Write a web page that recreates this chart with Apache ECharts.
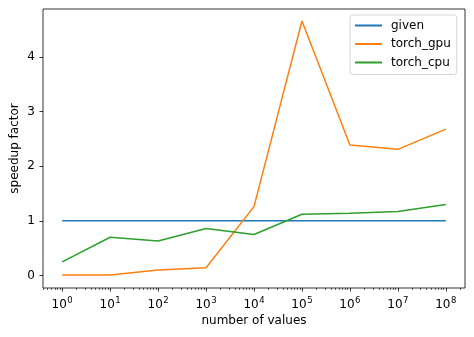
<!DOCTYPE html>
<html><head><meta charset="utf-8">
<script src="https://cdn.jsdelivr.net/npm/echarts@6/dist/echarts.min.js"></script>
<style>html,body{margin:0;padding:0;background:#fff}#c{width:474px;height:337px}</style>
</head><body><div id="c"></div>
<script>
const nValues = [1, 10, 100, 1000, 1e4, 1e5, 1e6, 1e7, 1e8];
const given = [1, 1, 1, 1, 1, 1, 1, 1, 1];
const torchGpu = [0.01, 0.01, 0.10, 0.14, 1.26, 4.66, 2.39, 2.31, 2.68];
const torchCpu = [0.25, 0.70, 0.63, 0.86, 0.75, 1.12, 1.14, 1.17, 1.30];
const yTicks = [0, 1, 2, 3, 4];
const xMajorExp = [0, 1, 2, 3, 4, 5, 6, 7, 8];

const minor = [];
for (let e = -1; e <= 8; e++) for (let k = 2; k <= 9; k++) {
  const v = Math.log10(k) + e;
  if (v > -0.4 && v < 8.4) minor.push(v);
}
const toPts = arr => arr.map((v, i) => [Math.log10(nValues[i]), v]);
const font = 'DejaVu Sans';
const fs = 12;
const chart = echarts.init(document.getElementById('c'), null, {renderer: 'canvas'});
chart.setOption({
  animation: false,
  backgroundColor: '#fff',
  textStyle: {fontFamily: font},
  grid: {left: 43, right: 9, top: 9, bottom: 49, show: true, containLabel: false, outerBoundsMode: 'none',
         borderColor: '#000', borderWidth: 0.8, backgroundColor: 'transparent'},
  legend: {
    orient: 'vertical', left: 350, top: 15, padding: [4, 6, 5.5, 5],
    itemWidth: 27, itemHeight: 2, itemGap: 5.5, icon: 'rect',
    borderColor: '#cccccc', borderWidth: 0.8, borderRadius: 3, backgroundColor: 'rgba(255,255,255,0.8)',
    textStyle: {fontFamily: font, fontSize: fs, color: '#000', lineHeight: 13, padding: [0,0,0,4]},
    data: ['given', 'torch_gpu', 'torch_cpu']
  },
  xAxis: [{
    type: 'value', min: -0.4, max: 8.4,
    name: 'number of values', nameLocation: 'middle', nameGap: 27, nameMoveOverlap: false,
    nameTextStyle: {fontFamily: font, fontSize: fs, color: '#000'},
    axisLine: {show: false, onZero: false}, splitLine: {show: false},
    axisTick: {show: true, customValues: xMajorExp, length: 3.5, lineStyle: {color: '#000', width: 0.8}},
    axisLabel: {customValues: xMajorExp, margin: 8, color: '#000', fontFamily: font,
      formatter: v => '{a|10}{b|' + Math.round(v) + '}',
      rich: {a: {fontSize: fs, fontFamily: font, color: '#000', lineHeight: 15, verticalAlign: 'bottom'},
             b: {fontSize: 8.5, fontFamily: font, color: '#000', lineHeight: 15, verticalAlign: 'top', padding: [0,0,0,0.5]}}}
  }, {
    type: 'value', min: -0.4, max: 8.4, position: 'bottom', gridIndex: 0,
    axisLine: {show: false, onZero: false}, splitLine: {show: false}, axisLabel: {show: false},
    axisTick: {show: true, customValues: minor, length: 2, lineStyle: {color: '#000', width: 0.6}}
  }],
  yAxis: {
    type: 'value', min: -0.23, max: 4.88,
    name: 'speedup factor', nameLocation: 'middle', nameGap: 22, nameRotate: 90, nameMoveOverlap: false,
    nameTextStyle: {fontFamily: font, fontSize: fs, color: '#000'},
    axisLine: {show: false, onZero: false}, splitLine: {show: false},
    axisTick: {show: true, customValues: yTicks, length: 3.5, lineStyle: {color: '#000', width: 0.8}},
    axisLabel: {customValues: yTicks, margin: 8, fontSize: fs, color: '#000', fontFamily: font}
  },
  series: [
    {name: 'given', type: 'line', data: toPts(given), showSymbol: false, symbol: 'none', lineStyle: {width: 1.5, color: '#1f77b4'}, itemStyle: {color: '#1f77b4'}},
    {name: 'torch_gpu', type: 'line', data: toPts(torchGpu), showSymbol: false, symbol: 'none', lineStyle: {width: 1.5, color: '#ff7f0e'}, itemStyle: {color: '#ff7f0e'}},
    {name: 'torch_cpu', type: 'line', data: toPts(torchCpu), showSymbol: false, symbol: 'none', lineStyle: {width: 1.5, color: '#2ca02c'}, itemStyle: {color: '#2ca02c'}}
  ]
});
</script></body></html>
